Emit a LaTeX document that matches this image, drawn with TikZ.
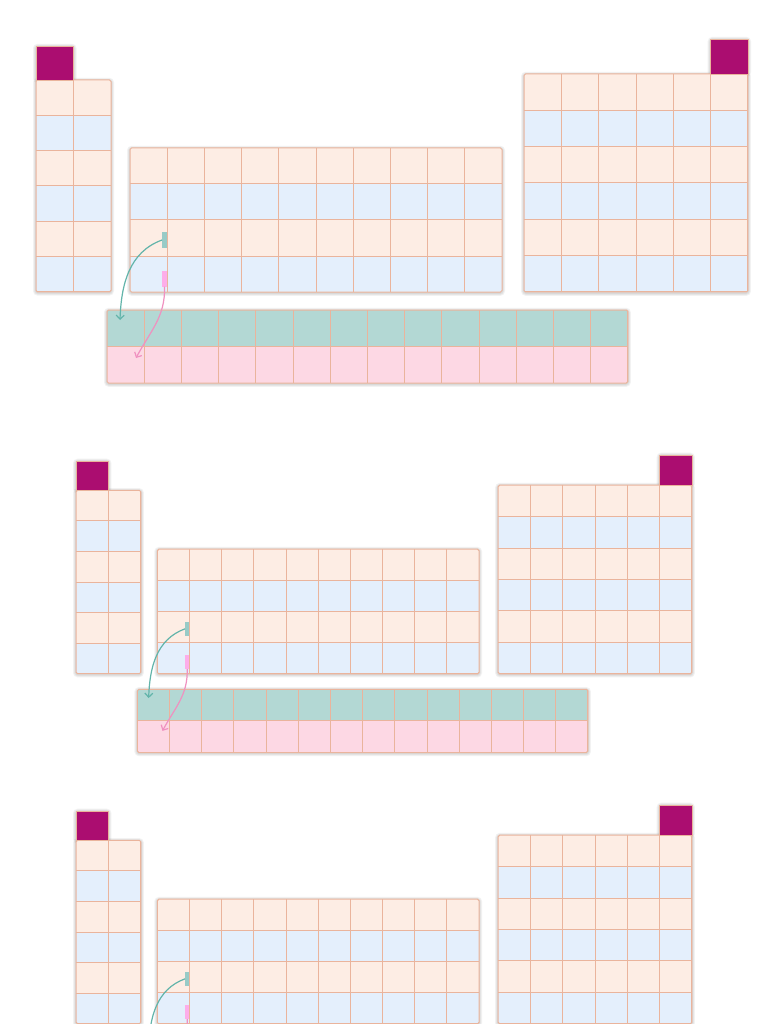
\documentclass[tikz,border=0pt]{standalone}
\usetikzlibrary{arrows.meta}

\definecolor{ptpeach}{RGB}{253,237,228}
\definecolor{ptblue}{RGB}{228,239,252}
\definecolor{ptline}{RGB}{234,180,156}
\definecolor{ptteal}{RGB}{179,216,212}
\definecolor{ptpink}{RGB}{253,216,228}
\definecolor{ptmagenta}{RGB}{171,13,112}
\definecolor{tealarr}{RGB}{98,180,170}
\definecolor{pinkarr}{RGB}{240,145,192}

\tikzset{
	glow/.style={draw=black, opacity=0.05, rounded corners=2pt},
	gridline/.style={draw=ptline, line width=1pt},
	headcell/.style={fill=ptmagenta, draw=ptline, line width=0.5pt},
	tealmark/.style={rectangle, fill=ptteal!85!teal, minimum width=4.5pt, minimum height=16pt, inner sep=0pt, transform shape},
	pinkmark/.style={rectangle, fill=ptpink!80!magenta, minimum width=4.5pt, minimum height=16pt, inner sep=0pt, transform shape},
	tealarrow/.style={-{Straight Barb[length=4pt, width=8pt]}, draw=tealarr, line width=1.2pt},
	pinkarrow/.style={-{Straight Barb[length=4pt, width=8pt]}, draw=pinkarr, line width=1.2pt}
}

% block of cells: top left x, y, cell width, cell height, columns, rows, row colours
\newcommand{\cellblock}[7]{%
	\foreach \g in {2,4,6}
		\draw[glow, line width=\g pt] (#1,{#2+0.8}) rectangle ++({#5*#3},{#6*#4});
	\begin{scope}
		\clip[rounded corners=1.5pt] (#1,#2) rectangle ++({#5*#3},{#6*#4});
		\foreach \c [count=\r from 0] in {#7}
			\fill[\c] (#1,{#2+\r*#4}) rectangle ++({#5*#3},#4);
		\foreach \i in {1,...,#5}
			\draw[gridline] ({#1+\i*#3},#2) -- ++(0,{#6*#4});
		\foreach \j in {1,...,#6}
			\draw[gridline] (#1,{#2+\j*#4}) -- ++({#5*#3},0);
	\end{scope}
	\draw[gridline, rounded corners=1.5pt] (#1,#2) rectangle ++({#5*#3},{#6*#4});
}

\begin{document}
\begin{tikzpicture}[x=1pt, y=-1pt]
	% Page
	\clip (0,0) rectangle (768,1024);
	\fill[white] (0,0) rectangle (768,1024);

	\foreach \sx/\sy/\sc/\k in {36/46/1/a, 76/461/0.865/b, 76/811/0.865/c}{
		\begin{scope}[shift={(\sx,\sy)}, scale=\sc]
			% glow behind the header cells
			\foreach \g in {2,4,6}{
				\draw[glow, line width=\g pt] (0,0.8) rectangle (37.5,34);
				\draw[glow, line width=\g pt] (674.7,-6.2) rectangle (712,28);
			}

			% s block
			\cellblock{0}{34}{37.5}{35.3}{2}{6}{ptpeach,ptblue,ptpeach,ptblue,ptpeach,ptblue}
			\fill[headcell] (0,0) rectangle (37.5,34);

			% d block
			\cellblock{94}{102}{37.2}{36}{10}{4}{ptpeach,ptblue,ptpeach,ptblue}

			% p block
			\cellblock{488}{28}{37.33}{36.33}{6}{6}{ptpeach,ptblue,ptpeach,ptblue,ptpeach,ptblue}
			\fill[headcell] (674.7,-7) rectangle (712,28);

			% f block
			\cellblock{71}{264}{37.2}{36.5}{14}{2}{ptteal,ptpink}

			% markers and arrows
			\node[tealmark] (tm\k) at (128.5,194) {};
			\node[pinkmark] (pm\k) at (128.5,232.5) {};
			\coordinate (tt\k) at (84,274);
			\coordinate (pt\k) at (100,312);
			\draw[tealarrow] (tm\k.west) to[out=200, in=88] (tt\k);
			\draw[pinkarrow] (pm\k.south) to[out=-88, in=62] (pt\k);
		\end{scope}
	}
\end{tikzpicture}
\end{document}
